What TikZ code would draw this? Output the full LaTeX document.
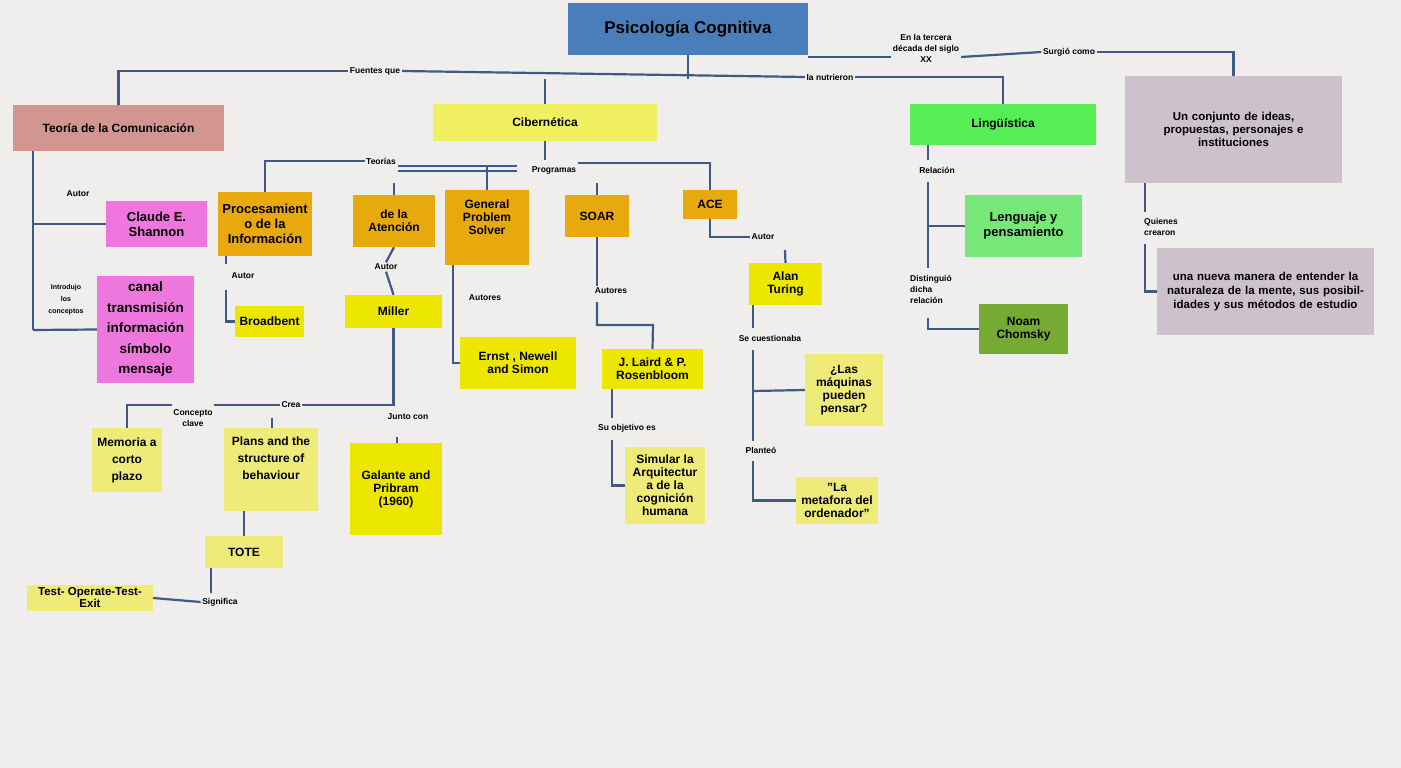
\documentclass[tikz,border=0pt]{standalone}
\usepackage{fontspec}
\setmainfont{Liberation Sans}
\usetikzlibrary{positioning, backgrounds}
\definecolor{bg}{HTML}{EFEEED}
\definecolor{lnk}{HTML}{3F5A85}
\definecolor{azul}{HTML}{4A7EBB}
\definecolor{rosa}{HTML}{D39590}
\definecolor{amar}{HTML}{F0F060}
\definecolor{amarb}{HTML}{EDE700}
\definecolor{amarc}{HTML}{EFEB78}
\definecolor{naran}{HTML}{E7A90B}
\definecolor{verde}{HTML}{55EE55}
\definecolor{verdec}{HTML}{77E877}
\definecolor{oliva}{HTML}{77AA33}
\definecolor{lila}{HTML}{CDC1CC}
\definecolor{fucsia}{HTML}{EE77DD}
\tikzstyle{box} = [rectangle, inner sep=1pt, align=center, font=\bfseries\fontsize{12}{13}\selectfont]
\tikzstyle{lbl} = [fill=bg, inner sep=1.5pt, align=center, font=\bfseries\fontsize{8.5}{11}\selectfont]
\tikzstyle{link} = [draw=lnk, line width=2.2pt]

\begin{document}
\begin{tikzpicture}[x=1pt, y=-1pt]
        \useasboundingbox (0,0) rectangle (1401,768);
        % concepts
        \node (psico) [box, fill=azul, minimum width=240, minimum height=52, font=\bfseries\fontsize{17}{19}\selectfont] at (688,29) {Psicología Cognitiva};
        \node (teoria) [box, fill=rosa, minimum width=211, minimum height=46] at (118.5,128) {Teoría de la Comunicación};
        \node (ciber) [box, fill=amar, minimum width=224, minimum height=37] at (545,122.5) {Cibernética};
        \node (ling) [box, fill=verde, minimum width=186, minimum height=41] at (1003,124.5) {Lingüística};
        \node (conj) [box, fill=lila, minimum width=217, minimum height=107, text width=200, font=\bfseries\fontsize{11.5}{13}\selectfont] at (1233.5,129.5) {Un conjunto de ideas,\\ propuestas, personajes e\\ instituciones\\[14pt]};
        \node (nueva) [box, fill=lila, minimum width=217, minimum height=87, text width=215, font=\bfseries\fontsize{11.5}{14}\selectfont] at (1265.5,291.5) {una nueva manera de entender la naturaleza de la mente, sus posibilidades y sus métodos de estudio};
        \node (claude) [box, fill=fucsia, minimum width=101, minimum height=46, font=\bfseries\fontsize{13}{15}\selectfont] at (156.5,224) {Claude E.\\Shannon};
        \node (canal) [box, fill=fucsia, minimum width=97, minimum height=107, font=\bfseries\fontsize{13.5}{20.5}\selectfont] at (145.5,329.5) {canal\\transmisión\\información\\símbolo\\mensaje};
        \node (proc) [box, fill=naran, minimum width=94, minimum height=64, font=\bfseries\fontsize{13}{15}\selectfont] at (265,224) {Procesamient\\o de la\\Información};
        \node (atencion) [box, fill=naran, minimum width=82, minimum height=52] at (394,221) {de la\\Atención};
        \node (gps) [box, fill=naran, minimum width=84, minimum height=75] at (487,227.5) {General\\Problem\\Solver\\[8pt]};
        \node (soar) [box, fill=naran, minimum width=64, minimum height=42] at (597,216) {SOAR};
        \node (ace) [box, fill=naran, minimum width=54, minimum height=29] at (710,204.5) {ACE};
        \node (broad) [box, fill=amarb, minimum width=69, minimum height=31] at (269.5,321.5) {Broadbent};
        \node (miller) [box, fill=amarb, minimum width=97, minimum height=33] at (393.5,311.5) {Miller};
        \node (ernst) [box, fill=amarb, minimum width=116, minimum height=52] at (518,363) {Ernst , Newell\\and Simon};
        \node (laird) [box, fill=amarb, minimum width=101, minimum height=40] at (652.5,369) {J. Laird \& P.\\Rosenbloom};
        \node (turing) [box, fill=amarb, minimum width=73, minimum height=42] at (785.5,284) {Alan\\Turing};
        \node (lenguaje) [box, fill=verdec, minimum width=117, minimum height=62, font=\bfseries\fontsize{13}{15}\selectfont] at (1023.5,226) {Lenguaje y\\pensamiento};
        \node (chomsky) [box, fill=oliva, minimum width=89, minimum height=50] at (1023.5,329) {Noam\\Chomsky};
        \node (memoria) [box, fill=amarc, minimum width=70, minimum height=64, font=\bfseries\fontsize{12}{17}\selectfont] at (127,460) {Memoria a\\corto\\plazo};
        \node (plans) [box, fill=amarc, minimum width=94, minimum height=83, font=\bfseries\fontsize{12}{17}\selectfont] at (271,469.5) {Plans and the\\structure of\\behaviour\\[6pt]};
        \node (galante) [box, fill=amarb, minimum width=92, minimum height=92] at (396,489) {Galante and\\Pribram\\(1960)};
        \node (tote) [box, fill=amarc, minimum width=78, minimum height=32] at (244,552) {TOTE};
        \node (test) [box, fill=amarc, minimum width=126, minimum height=26, font=\bfseries\fontsize{11.5}{12}\selectfont] at (90,598) {Test- Operate-Test-\\Exit};
        \node (simular) [box, fill=amarc, minimum width=80, minimum height=77] at (665,485.5) {Simular la\\Arquitectur\\a de la\\cognición\\humana};
        \node (maquinas) [box, fill=amarc, minimum width=78, minimum height=72] at (844,390) {¿Las\\máquinas\\pueden\\pensar?};
        \node (metafora) [box, fill=amarc, minimum width=82, minimum height=47] at (837,500.5) {"La\\metafora del\\ordenador"};
        % linking words
        \node (fuentes) [lbl] at (375,71) {Fuentes que};
        \node (nutrieron) [lbl] at (830,77) {la nutrieron};
        \node (decada) [lbl] at (926,48) {En la tercera\\década del siglo\\XX};
        \node (surgio) [lbl] at (1069,52) {Surgió como};
        \node (teorias) [lbl] at (381,161) {Teorías};
        \node (programas) [lbl] at (554,170) {Programas};
        \node (autor1) [lbl] at (78,194) {Autor};
        \node (introdujo) [lbl, font=\bfseries\fontsize{7}{12}\selectfont] at (66,300) {Introdujo\\los\\conceptos};
        \node (autor2) [lbl] at (243,276) {Autor};
        \node (autor3) [lbl] at (386,267) {Autor};
        \node (autores1) [lbl] at (485,298) {Autores};
        \node (autores2) [lbl] at (611,291) {Autores};
        \node (autor4) [lbl] at (763,237) {Autor};
        \node (cuestion) [lbl] at (770,338) {Se cuestionaba};
        \node (relacion) [lbl] at (937,170) {Relación};
        \node (distinguio) [lbl, align=left] at (931,289) {Distinguió\\dicha\\relación};
        \node (quienes) [lbl, align=left] at (1161,227) {Quienes\\crearon};
        \node (concepto) [lbl] at (193,418) {Concepto\\clave};
        \node (crea) [lbl] at (291,405) {Crea};
        \node (junto) [lbl] at (408,417) {Junto con};
        \node (objetivo) [lbl] at (627,428) {Su objetivo es};
        \node (planteo) [lbl] at (761,450) {Planteó};
        \node (significa) [lbl] at (220,602) {Significa};

        \begin{scope}[on background layer]
        \fill [bg] (0,0) rectangle (1401,768);
        \draw [link] (psico.south) -- (688,79);
        \draw [link] (teoria.north) |- (fuentes.west);
        \draw [link] (fuentes.east) -- (nutrieron.west);
        \draw [link] (ciber.north) -- (545,79);
        \draw [link] (nutrieron.east) -| (ling.north);
        \draw [link] (808,57) -- (decada.west |- 0,57);
        \draw [link] (decada.east |- 0,57) -- (surgio.west);
        \draw [link] (surgio.east) -| (conj.north);
        \draw [link] (ciber.south) -- (545,160);
        \draw [link] (proc.north) |- (teorias.west);
        \draw [link] (teorias.east) ++(0,5) -- (517,166);
        \draw [link] (teorias.east) ++(0,10) -- (517,171);
        \draw [link] (gps.north) -- (487,166);
        \draw [link] (programas.east) ++(0,-7) -| (ace.north);
        \draw [link] (soar.north) -- (597,183);
        \draw [link] (atencion.north) -- (394,183);
        \draw [link] (33,151) -- (33,330);
        \draw [link] (33,224) -- (claude.west);
        \draw [link] (33,330) -- (canal.west);
        \draw [link] (226,256) -- (226,264);
        \draw [link] (226,290) |- (broad.west);
        \draw [link] (atencion.south) -- (autor3.north);
        \draw [link] (autor3.south) -- (miller.north);
        \draw [link] (miller.south) |- (crea.east);
        \draw [link] (crea.west) -- (concepto.east |- 0,405);
        \draw [link] (concepto.west |- 0,405) -| (memoria.north);
        \draw [link] (272,418) -- (plans.north -| 272,0);
        \draw [link] (397,437) -- (galante.north -| 397,0);
        \draw [link] (plans.south -| 244,0) -- (tote.north);
        \draw [link] (tote.south -| 211,0) -- (211,593);
        \draw [link] (significa.west) -- (test.east);
        \draw [link] (453,265) |- (ernst.west);
        \draw [link] (soar.south) -- (autores2.north -| soar);
        \draw [link] (597,302) |- (653,325) -- (laird.north);
        \draw [link] (612,389) -- (612,418);
        \draw [link] (612,440) |- (simular.west);
        \draw [link] (ace.south) |- (autor4.west);
        \draw [link] (785,250) -- (turing.north);
        \draw [link] (753,305) -- (753,328);
        \draw [link] (753,350) -- (753,441);
        \draw [link] (753,391) -- (maquinas.west);
        \draw [link] (753,461) |- (metafora.west);
        \draw [link] (928,145) -- (928,160);
        \draw [link] (928,182) -- (928,268);
        \draw [link] (928,226) -- (lenguaje.west);
        \draw [link] (928,318) |- (chomsky.west);
        \draw [link] (1145,183) -- (1145,212);
        \draw [link] (1145,244) |- (nueva.west);
        \end{scope}
\end{tikzpicture}
\end{document}
